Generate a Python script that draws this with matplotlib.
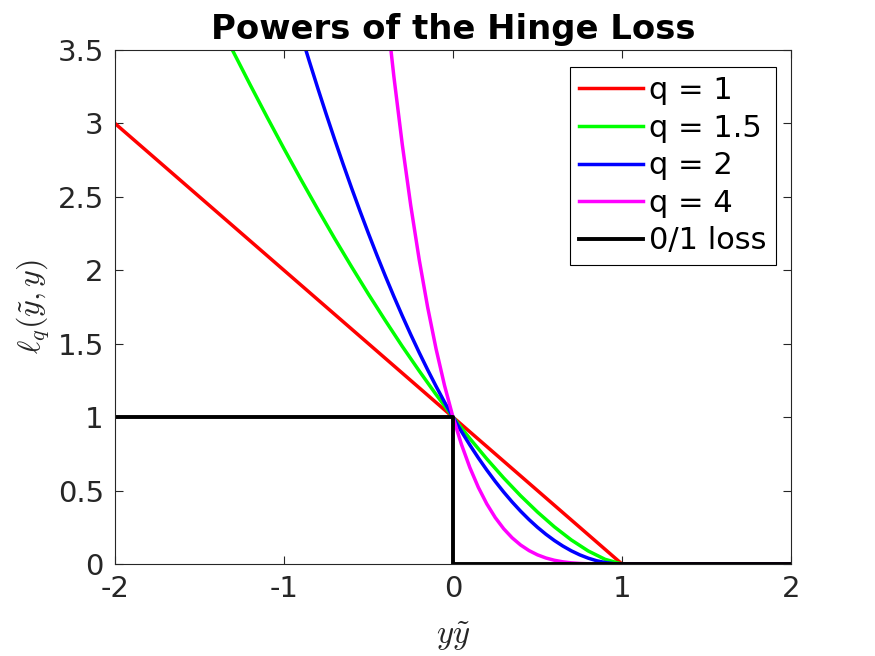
import matplotlib
matplotlib.use("Agg")
import matplotlib.pyplot as plt

# margin y*y~ sampled every 0.1 from -2 to 1, then the flat part out to 2
x = [-2.0, -1.9, -1.8, -1.7, -1.6, -1.5, -1.4, -1.3, -1.2, -1.1, -1.0,
     -0.9, -0.8, -0.7, -0.6, -0.5, -0.4, -0.3, -0.2, -0.1, 0.0,
     0.1, 0.2, 0.3, 0.4, 0.5, 0.6, 0.7, 0.8, 0.9, 1.0, 2.0]

loss_q1 = [3.0, 2.9, 2.8, 2.7, 2.6, 2.5, 2.4, 2.3, 2.2, 2.1, 2.0,
           1.9, 1.8, 1.7, 1.6, 1.5, 1.4, 1.3, 1.2, 1.1, 1.0,
           0.9, 0.8, 0.7, 0.6, 0.5, 0.4, 0.3, 0.2, 0.1, 0.0, 0.0]
loss_q15 = [5.196, 4.938, 4.685, 4.437, 4.192, 3.953, 3.718, 3.488, 3.263, 3.043, 2.828,
            2.619, 2.415, 2.216, 2.024, 1.837, 1.657, 1.482, 1.315, 1.154, 1.0,
            0.854, 0.716, 0.586, 0.465, 0.354, 0.253, 0.164, 0.089, 0.032, 0.0, 0.0]

# q = 2 and q = 4 bend harder, so they get a finer grid
x_q2 = [-0.9, -0.85, -0.8, -0.75, -0.7, -0.65, -0.6, -0.55, -0.5, -0.45, -0.4,
        -0.35, -0.3, -0.25, -0.2, -0.15, -0.1, -0.05, 0.0,
        0.05, 0.1, 0.15, 0.2, 0.25, 0.3, 0.35, 0.4, 0.45, 0.5,
        0.55, 0.6, 0.65, 0.7, 0.75, 0.8, 0.85, 0.9, 0.95, 1.0, 2.0]
loss_q2 = [3.61, 3.4225, 3.24, 3.0625, 2.89, 2.7225, 2.56, 2.4025, 2.25, 2.1025, 1.96,
           1.8225, 1.69, 1.5625, 1.44, 1.3225, 1.21, 1.1025, 1.0,
           0.9025, 0.81, 0.7225, 0.64, 0.5625, 0.49, 0.4225, 0.36, 0.3025, 0.25,
           0.2025, 0.16, 0.1225, 0.09, 0.0625, 0.04, 0.0225, 0.01, 0.0025, 0.0, 0.0]

x_q4 = [-0.4, -0.35, -0.3, -0.25, -0.2, -0.15, -0.1, -0.05, 0.0,
        0.05, 0.1, 0.15, 0.2, 0.25, 0.3, 0.35, 0.4, 0.45, 0.5,
        0.55, 0.6, 0.65, 0.7, 0.75, 0.8, 0.85, 0.9, 0.95, 1.0, 2.0]
loss_q4 = [3.8416, 3.3215, 2.8561, 2.4414, 2.0736, 1.7490, 1.4641, 1.2155, 1.0,
           0.8145, 0.6561, 0.5220, 0.4096, 0.3164, 0.2401, 0.1785, 0.1296, 0.0915, 0.0625,
           0.0410, 0.0256, 0.0150, 0.0081, 0.0039, 0.0016, 0.0005, 0.0001, 0.0, 0.0, 0.0]

# 0/1 loss step
x_01 = [-2, 0, 0, 2]
loss_01 = [1, 1, 0, 0]

labels = ["q = 1", "q = 1.5", "q = 2", "q = 4", "0/1 loss"]
xticks = [-2, -1, 0, 1, 2]
yticks = [0, 0.5, 1, 1.5, 2, 2.5, 3, 3.5]

plt.rcParams['font.family'] = ['DejaVu Sans']
plt.rcParams['mathtext.fontset'] = 'cm'

grey = '#262626'
fig = plt.figure(figsize=(8.75, 6.56), dpi=100)
ax = fig.add_axes([0.1314, 0.1402, 0.7726, 0.7836])

ax.plot(x, loss_q1, color=(1, 0, 0), lw=2.5, label=labels[0])
ax.plot(x, loss_q15, color=(0, 1, 0), lw=2.5, label=labels[1])
ax.plot(x_q2, loss_q2, color=(0, 0, 1), lw=2.5, label=labels[2])
ax.plot(x_q4, loss_q4, color=(1, 0, 1), lw=2.5, label=labels[3])
ax.plot(x_01, loss_01, color='k', lw=2.8, label=labels[4])

ax.set_xlim(-2, 2)
ax.set_ylim(0, 3.5)
ax.set_xticks(xticks)
ax.set_xticklabels([str(t) for t in xticks])
ax.set_yticks(yticks)
ax.set_yticklabels(['0', '0.5', '1', '1.5', '2', '2.5', '3', '3.5'])
ax.tick_params(direction='in', length=6, width=0.8, top=True, right=True,
               labelsize=21, colors=grey, pad=8)
for s in ax.spines.values():
    s.set_color(grey)
    s.set_linewidth(0.8)

ax.set_title("Powers of the Hinge Loss", fontsize=24.4, fontweight='bold', pad=8)
ax.set_xlabel(r"$y\tilde{y}$", fontsize=23.5, color=grey, labelpad=12)
ax.set_ylabel(r"$\ell_q(\tilde{y},y)$", fontsize=23, color=grey, labelpad=4)

leg = ax.legend(loc='upper right', bbox_to_anchor=(0.978, 0.967), fontsize=22,
                fancybox=False, edgecolor='k', framealpha=1, borderaxespad=0,
                handlelength=2.1, handletextpad=0.2, labelspacing=0.28,
                borderpad=0.3)
leg.get_frame().set_linewidth(0.8)

fig.savefig("out.png", dpi=100)
